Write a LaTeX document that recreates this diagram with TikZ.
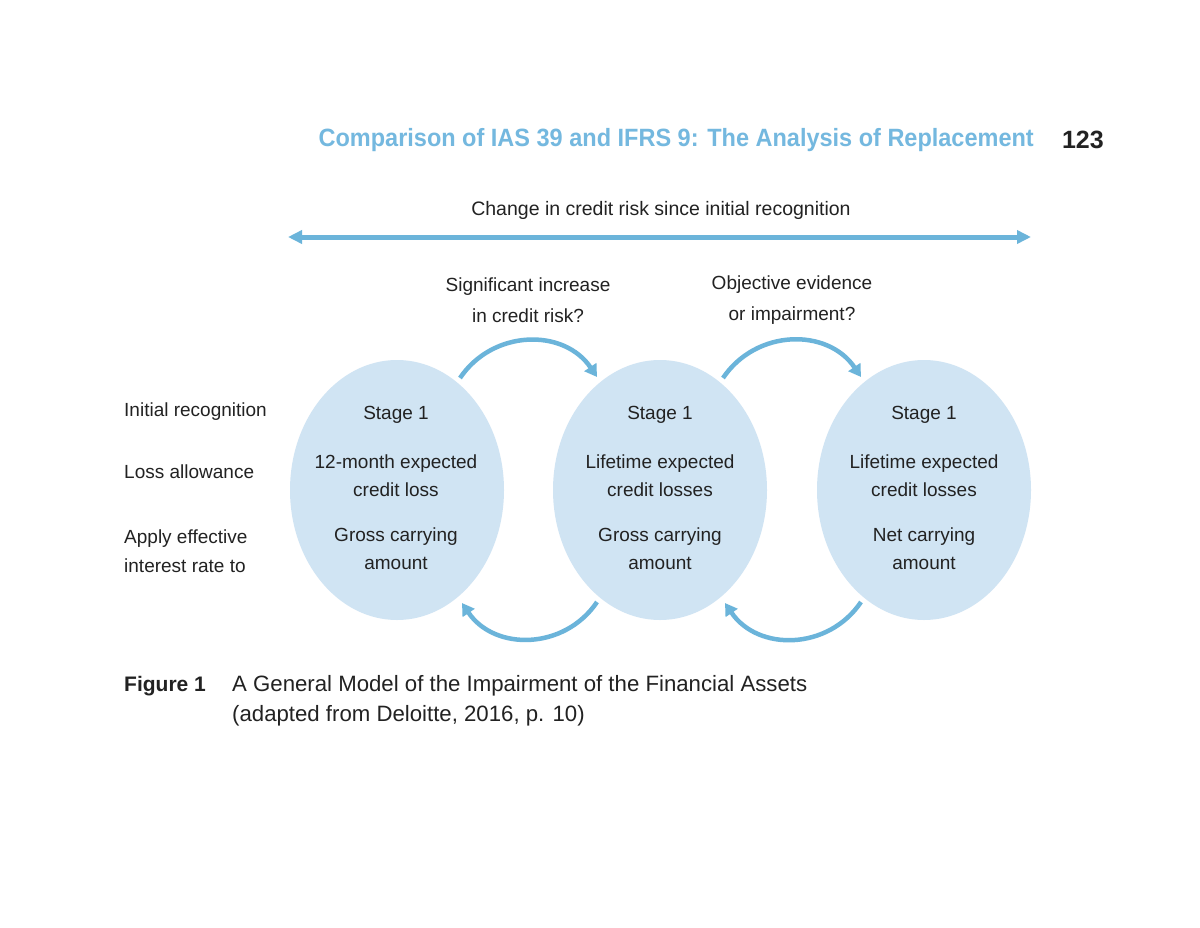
\documentclass[tikz,border=0pt]{standalone}
\usepackage{fontspec}
\setmainfont{Liberation Sans}
\newfontfamily\condfont[FakeStretch=0.94]{Liberation Sans}
\usetikzlibrary{shapes.geometric,arrows.meta,calc}
\definecolor{ellfill}{HTML}{D0E4F3}
\definecolor{arrblue}{HTML}{6BB4DA}
\definecolor{titleblue}{HTML}{74B8DF}
\definecolor{txt}{HTML}{222222}
\begin{document}
\begin{tikzpicture}[x=1pt,y=1pt,
  stageell/.style={ellipse,fill=ellfill,draw=none,minimum width=214pt,minimum height=260pt,inner sep=0pt},
  body/.style={text=txt,font=\fontsize{19}{28}\selectfont,inner sep=0pt,align=center},
  sidelbl/.style={body,anchor=west,align=left},
  bigarrow/.style={draw=arrblue,line width=5pt,{Triangle[width=13pt,length=14pt]}-{Triangle[width=13pt,length=14pt]}},
  looparrow/.style={draw=arrblue,line width=4.5pt,-{Triangle[width=14pt,length=12pt]}}
]
\useasboundingbox (0,0) rectangle (1200,-927);
\fill[white] (0,0) rectangle (1200,-927);

% header
\node[anchor=east,inner sep=0pt,text=titleblue,font=\condfont\bfseries\fontsize{25}{28}\selectfont] (title) at (1034,-140) {Comparison of IAS 39 and IFRS 9: The Analysis of Replacement};
\node[anchor=east,inner sep=0pt,text=txt,font=\bfseries\fontsize{25}{28}\selectfont] (page) at (1104,-140) {123};

% top scale
\node[body,font=\fontsize{19.5}{28}\selectfont] (scale) at (661,-210) {Change in credit risk since initial recognition};
\coordinate (sl) at (288,-237);
\coordinate (sr) at (1031,-237);
\draw[bigarrow] (sl) -- (sr);

% ellipses
\node[stageell] (e1) at (397,-490) {};
\node[stageell] (e2) at (660,-490) {};
\node[stageell] (e3) at (924,-490) {};

% questions
\node[body,font=\fontsize{19}{31}\selectfont] (q1) at (528,-300) {Significant increase\\in credit risk?};
\node[body,font=\fontsize{19}{31}\selectfont] (q2) at (792,-300) {Objective evidence\\or impairment?};

% loop arrows
\draw[looparrow] ($(e1)+(63,112)$) to[out=56,in=124,looseness=1.1] ($(e2)+(-63,113)$);
\draw[looparrow] ($(e2)+(63,112)$) to[out=56,in=124,looseness=1.1] ($(e3)+(-63,113)$);
\draw[looparrow] ($(e2)+(-63,-112)$) to[out=-124,in=-56,looseness=1.1] ($(e1)+(65,-113)$);
\draw[looparrow] ($(e3)+(-63,-112)$) to[out=-124,in=-56,looseness=1.1] ($(e2)+(65,-113)$);

% side labels
\node[sidelbl] (l1) at (124,-412) {Initial recognition};
\node[sidelbl] (l2) at (124,-472) {Loss allowance};
\node[sidelbl,font=\fontsize{19}{29}\selectfont] (l3) at (124,-551) {Apply effective\\interest rate to};

% ellipse texts
\node[body] (s1) at (396,-415) {Stage 1};
\node[body] (a1) at (396,-476) {12-month expected\\credit loss};
\node[body] (b1) at (396,-549) {Gross carrying\\amount};

\node[body] (s2) at (660,-415) {Stage 1};
\node[body] (a2) at (660,-476) {Lifetime expected\\credit losses};
\node[body] (b2) at (660,-549) {Gross carrying\\amount};

\node[body] (s3) at (924,-415) {Stage 1};
\node[body] (a3) at (924,-476) {Lifetime expected\\credit losses};
\node[body] (b3) at (924,-549) {Net carrying\\amount};

% caption
\node[anchor=west,inner sep=0pt,text=txt,font=\bfseries\fontsize{21}{28}\selectfont] (fig) at (124,-686) {Figure 1};
\node[anchor=west,inner sep=0pt,text=txt,align=left,font=\fontsize{22.2}{30}\selectfont] (cap) at (232,-701) {A General Model of the Impairment of the Financial Assets\\(adapted from Deloitte, 2016, p. 10)};
\end{tikzpicture}
\end{document}
